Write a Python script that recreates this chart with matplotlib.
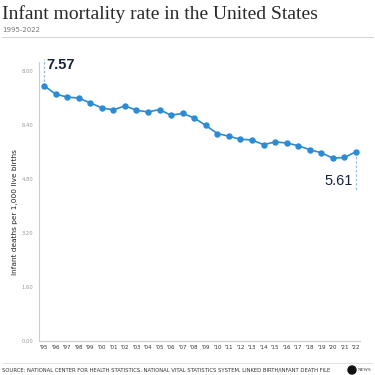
import matplotlib
matplotlib.use("Agg")
import matplotlib.pyplot as plt

years = list(range(1995, 2023))
rates = [7.57, 7.32, 7.23, 7.20, 7.06, 6.91, 6.85, 6.97, 6.84, 6.79, 6.86, 6.69, 6.75,
         6.61, 6.39, 6.15, 6.07, 5.98, 5.96, 5.82, 5.90, 5.87, 5.79, 5.67, 5.58, 5.42,
         5.44, 5.61]
xtick_labels = ["'" + str(y)[2:] for y in years]
yticks = [0.0, 1.6, 3.2, 4.8, 6.4, 8.0]

W = H = 375
fig = plt.figure(figsize=(3.75, 3.75), dpi=100)
fig.patch.set_facecolor("white")

ax = fig.add_axes([39 / W, (H - 341) / H, 321 / W, 279 / H])
blue = "#2b8bd3"
navy = "#16213f"
ax.plot(years, rates, color=blue, lw=1.2, marker="o", ms=3.6, mec=blue, mfc=blue, zorder=3)
ax.set_xlim(1994.57, 2022.35)
ax.set_ylim(0, 8.27)
ax.set_yticks(yticks)
ax.set_yticklabels([f"{v:.2f}" for v in yticks], fontsize=3.8, color="#999999")
ax.set_xticks(years)
ax.set_xticklabels(xtick_labels, fontsize=4.0, color="#333333")
ax.tick_params(length=0, pad=3)
ax.tick_params(axis="y", pad=4)
for s in ["top", "right"]:
    ax.spines[s].set_visible(False)
for s in ["left", "bottom"]:
    ax.spines[s].set_color("#cccccc")
    ax.spines[s].set_linewidth(0.8)
ax.set_ylabel("Infant deaths per 1,000 live births", fontsize=5.3, color="#222222")
ax.yaxis.set_label_coords((18 - 39) / 321, (341 - 212) / 279)

# annotations
ax.plot([years[0], years[0]], [rates[0], 8.35], ls=(0, (2, 1.5)), color="#9dbbd6", lw=0.9, zorder=2, clip_on=False)
ax.text(years[0] + 0.2, 8.17, f"{rates[0]:.2f}", fontsize=10.5, fontweight="bold", color=navy,
        ha="left", va="center", family="Liberation Sans")
ax.plot([years[-1], years[-1]], [rates[-1], 4.45], ls=(0, (2, 1.5)), color="#9dbbd6", lw=0.9, zorder=2)
ax.text(years[-1] - 0.25, 4.75, f"{rates[-1]:.2f}", fontsize=10.5, color=navy,
        ha="right", va="center", family="Liberation Sans")

# header
fig.text(2 / W, 1 - 14 / H, "Infant mortality rate in the United States", fontsize=14,
         family="Liberation Serif", color="#2a2a2a", ha="left", va="center")
fig.text(2 / W, 1 - 29.5 / H, "1995-2022", fontsize=5, color="#777777", ha="left", va="center")
fig.add_artist(plt.Line2D([2 / W, 373 / W], [1 - 37 / H, 1 - 37 / H], color="#cccccc", lw=0.6))

# footer
fig.add_artist(plt.Line2D([2 / W, 373 / W], [1 - 363 / H, 1 - 363 / H], color="#dddddd", lw=0.6))
fig.text(2 / W, 1 - 370 / H,
         "SOURCE: NATIONAL CENTER FOR HEALTH STATISTICS, NATIONAL VITAL STATISTICS SYSTEM, LINKED BIRTH/INFANT DEATH FILE",
         fontsize=4.2, color="#333333", ha="left", va="center", fontstretch="condensed")
fig.text(372 / W, 1 - 370 / H, "NEWS", fontsize=3.5, color="#333333", ha="right", va="center",
         family="Liberation Serif")
fig.add_artist(matplotlib.patches.Circle((352 / W, 1 - 370 / H), 4 / W, color="#111111",
                                         transform=fig.transFigure))

fig.savefig("out.png", dpi=100, facecolor="white")
